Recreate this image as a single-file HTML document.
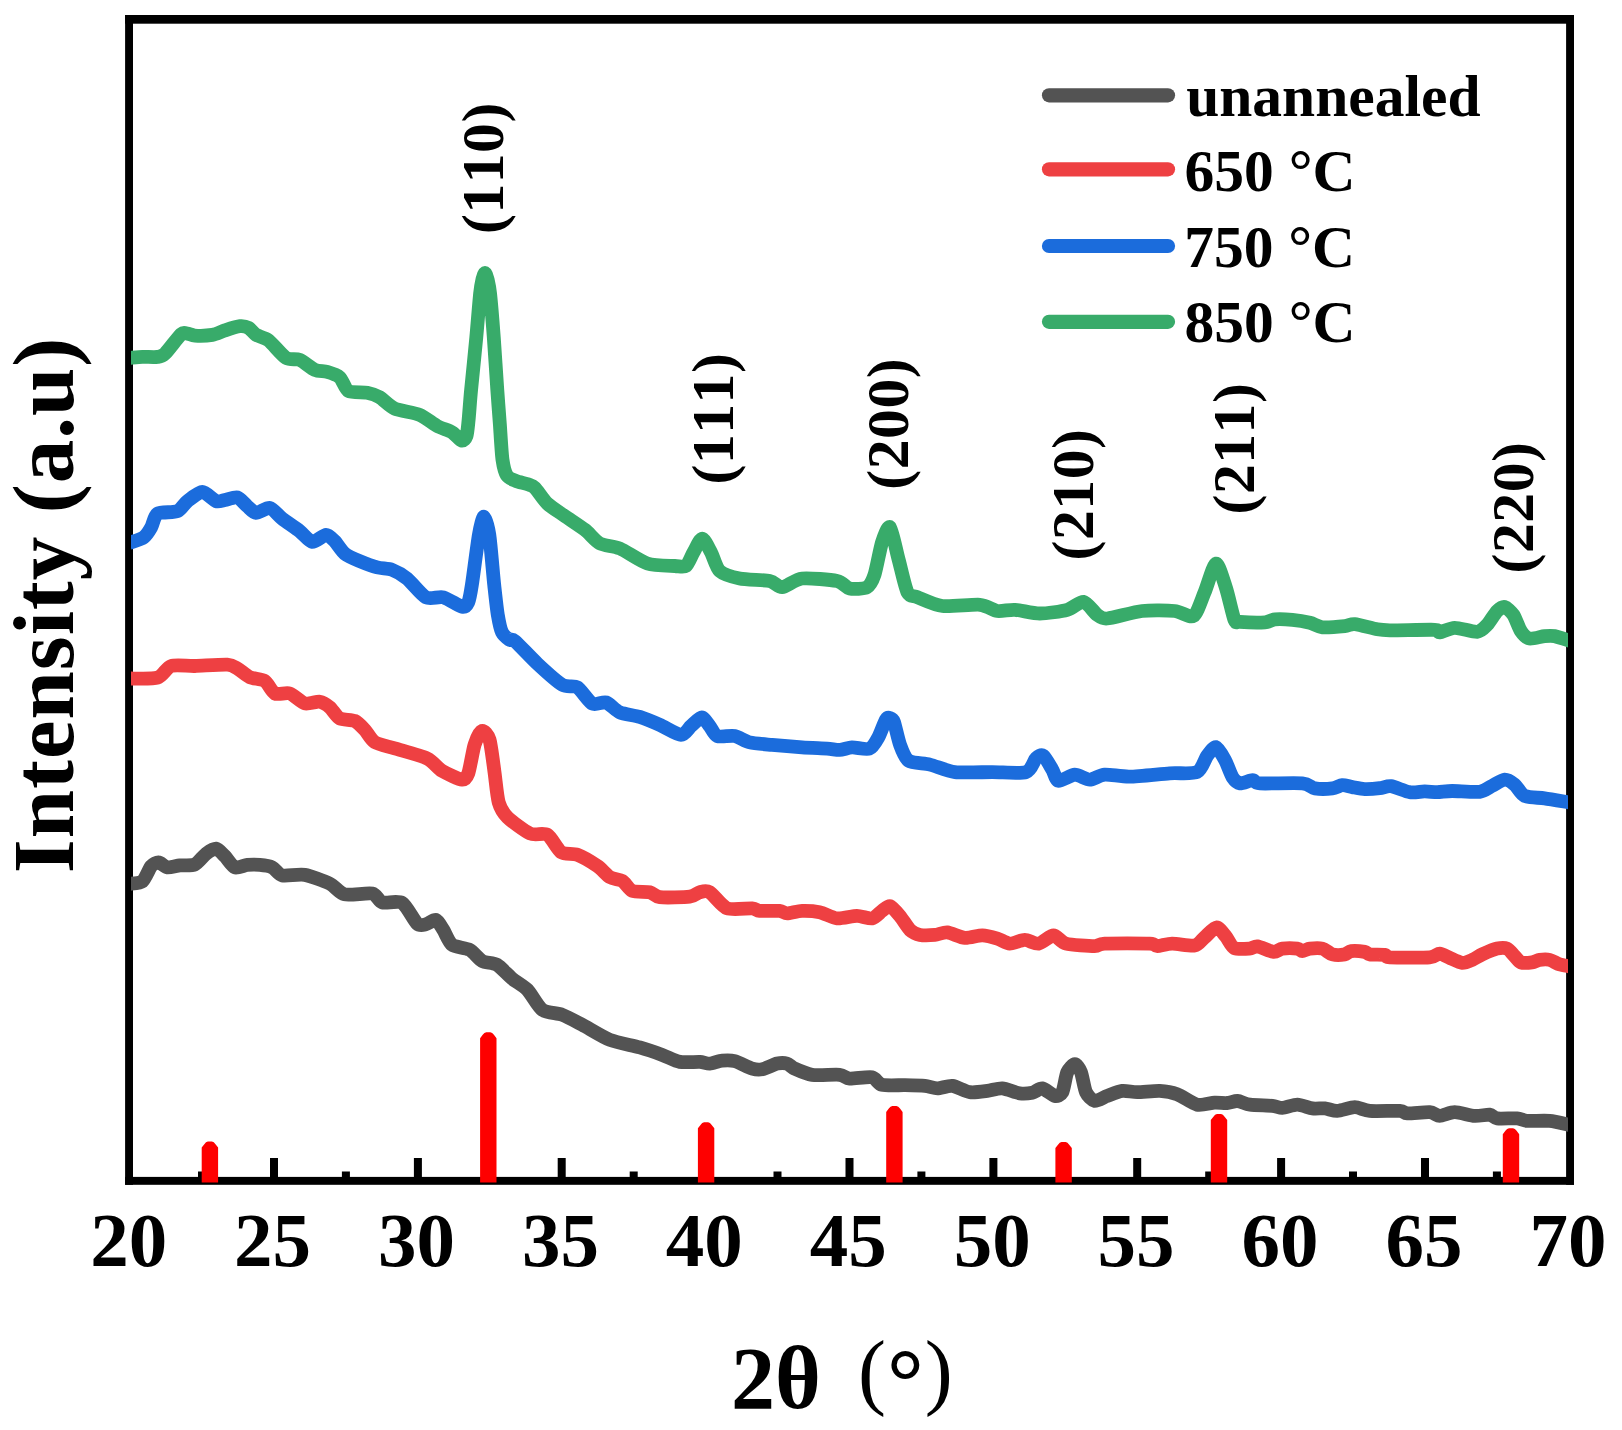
<!DOCTYPE html>
<html lang="en"><head><meta charset="utf-8"><title>XRD patterns</title>
<style>html,body{margin:0;padding:0;background:#fff}body{width:1622px;height:1430px;overflow:hidden}svg{display:block}text{font-family:"Liberation Serif","Times New Roman",serif;font-weight:bold;fill:#000;font-kerning:none;font-variant-ligatures:none}tspan.n{font-weight:normal}</style></head><body>
<svg width="1622" height="1430" viewBox="0 0 1622 1430">
<rect width="1622" height="1430" fill="#fff"/>
<defs><clipPath id="cp"><rect x="131" y="20" width="1437" height="1160"/></clipPath></defs>
<g fill="#000"><rect x="125.1" y="15" width="1448.9" height="8.7"/><rect x="125.1" y="1176.9" width="1448.9" height="7.9"/><rect x="125.1" y="15" width="7.9" height="1169.8"/><rect x="1566.1" y="15" width="7.9" height="1169.8"/></g>
<g fill="#000"><rect x="198.0" y="1171.5" width="8" height="6.5"/><rect x="270.0" y="1158.0" width="8" height="20.0"/><rect x="341.9" y="1171.5" width="8" height="6.5"/><rect x="413.9" y="1158.0" width="8" height="20.0"/><rect x="485.8" y="1171.5" width="8" height="6.5"/><rect x="557.7" y="1158.0" width="8" height="20.0"/><rect x="629.7" y="1171.5" width="8" height="6.5"/><rect x="701.6" y="1158.0" width="8" height="20.0"/><rect x="773.5" y="1171.5" width="8" height="6.5"/><rect x="845.5" y="1158.0" width="8" height="20.0"/><rect x="917.4" y="1171.5" width="8" height="6.5"/><rect x="989.4" y="1158.0" width="8" height="20.0"/><rect x="1061.3" y="1171.5" width="8" height="6.5"/><rect x="1133.2" y="1158.0" width="8" height="20.0"/><rect x="1205.2" y="1171.5" width="8" height="6.5"/><rect x="1277.1" y="1158.0" width="8" height="20.0"/><rect x="1349.0" y="1171.5" width="8" height="6.5"/><rect x="1421.0" y="1158.0" width="8" height="20.0"/><rect x="1492.9" y="1171.5" width="8" height="6.5"/></g>
<g clip-path="url(#cp)" fill="none" stroke-width="13.8" stroke-linejoin="round" stroke-linecap="butt">
<path stroke="#535353" d="M129.0 884.0C130.7 883.6 139.7 883.4 142.5 881.2C145.3 879.0 149.2 868.6 151.2 866.2C153.2 863.9 156.7 862.2 158.7 862.4C160.7 862.5 164.8 867.0 167.4 867.4C170.1 867.8 176.5 865.8 179.9 865.4C183.3 865.0 191.6 865.9 194.9 864.4C198.2 862.9 203.4 855.7 206.1 853.7C208.8 851.7 213.8 848.4 216.1 848.7C218.4 849.0 222.6 853.9 224.9 856.2C227.2 858.5 232.1 866.3 234.9 867.4C237.7 868.5 244.2 865.2 247.3 864.9C250.4 864.6 256.7 864.6 259.8 864.9C262.9 865.2 269.5 866.1 272.3 867.4C275.1 868.7 278.2 874.5 282.3 875.4C286.4 876.3 298.9 873.9 304.8 874.9C310.7 875.9 324.7 881.2 329.7 883.6C334.7 886.0 339.4 893.1 344.7 894.4C350.0 895.6 367.5 892.6 372.2 893.6C376.9 894.6 378.5 901.2 382.2 902.4C385.9 903.6 397.7 900.2 402.1 902.9C406.5 905.5 414.1 920.9 417.1 923.6C420.1 926.3 423.5 924.8 425.9 924.3C428.2 923.8 433.7 919.2 435.9 919.9C438.1 920.6 441.3 926.7 443.3 929.8C445.3 932.9 448.8 942.3 452.1 944.8C455.4 947.3 465.9 947.8 469.6 949.8C473.4 951.8 478.7 959.1 482.1 961.0C485.5 962.9 493.3 962.6 497.0 964.8C500.7 967.0 508.2 975.4 512.0 978.5C515.8 981.6 523.7 986.0 527.5 989.9C531.3 993.8 538.0 1006.8 542.4 1009.9C546.8 1013.0 557.4 1013.0 562.4 1014.9C567.4 1016.8 576.5 1021.8 582.4 1024.9C588.3 1028.0 602.7 1037.1 609.9 1039.9C617.1 1042.7 633.2 1045.5 639.8 1047.4C646.3 1049.3 657.3 1053.1 662.3 1054.9C667.3 1056.7 675.1 1061.0 679.8 1061.9C684.5 1062.8 696.1 1061.7 699.8 1061.9C703.5 1062.1 706.9 1063.8 709.7 1063.6C712.5 1063.4 719.1 1060.9 722.2 1060.6C725.3 1060.3 731.0 1060.1 734.7 1061.1C738.5 1062.1 748.8 1067.6 752.2 1068.6C755.6 1069.6 759.1 1069.9 762.2 1069.3C765.3 1068.7 774.1 1064.3 777.2 1063.6C780.3 1062.9 784.9 1063.0 787.1 1063.6C789.3 1064.2 791.5 1067.2 794.6 1068.6C797.7 1070.0 806.5 1074.0 812.1 1074.8C817.7 1075.6 834.9 1074.3 839.6 1074.8C844.3 1075.3 845.6 1078.3 849.6 1078.6C853.6 1078.9 868.0 1076.5 872.0 1077.3C876.0 1078.1 877.9 1083.8 882.0 1084.8C886.1 1085.8 899.6 1085.1 905.0 1085.2C910.4 1085.3 920.9 1085.5 924.9 1085.9C928.9 1086.3 934.0 1088.4 937.4 1088.4C940.8 1088.4 948.3 1085.4 952.4 1085.9C956.5 1086.4 965.5 1091.6 969.9 1092.2C974.3 1092.8 983.4 1091.4 987.4 1090.9C991.4 1090.4 998.2 1088.1 1002.3 1088.4C1006.3 1088.7 1016.0 1092.9 1019.8 1093.4C1023.5 1093.9 1029.5 1093.3 1032.3 1092.7C1035.1 1092.1 1039.5 1088.0 1042.3 1088.4C1045.1 1088.8 1052.3 1095.4 1054.8 1095.9C1057.3 1096.4 1060.7 1095.2 1062.3 1092.2C1063.9 1089.2 1065.7 1075.7 1067.3 1072.2C1068.9 1068.7 1073.1 1064.2 1074.8 1064.2C1076.5 1064.2 1079.6 1068.7 1081.0 1072.2C1082.4 1075.7 1084.3 1088.6 1086.0 1092.2C1087.7 1095.8 1092.0 1100.4 1094.7 1100.9C1097.4 1101.4 1103.8 1097.2 1107.2 1095.9C1110.6 1094.7 1118.5 1091.4 1122.2 1090.9C1126.0 1090.4 1132.5 1092.2 1137.2 1092.2C1141.9 1092.2 1154.7 1090.7 1159.7 1090.9C1164.7 1091.2 1172.4 1092.5 1177.1 1094.2C1181.8 1095.9 1192.4 1103.6 1197.1 1104.7C1201.8 1105.8 1210.8 1102.9 1214.6 1102.7C1218.3 1102.5 1224.2 1103.2 1227.1 1103.0C1230.0 1102.8 1234.6 1100.8 1237.5 1101.0C1240.4 1101.2 1245.6 1104.1 1250.0 1104.7C1254.4 1105.3 1268.4 1105.5 1272.4 1105.9C1276.5 1106.3 1279.3 1108.1 1282.4 1107.9C1285.5 1107.8 1293.7 1104.6 1297.4 1104.7C1301.2 1104.8 1309.0 1107.9 1312.4 1108.4C1315.8 1108.9 1321.8 1108.1 1324.9 1108.4C1328.0 1108.7 1333.6 1111.1 1337.3 1110.9C1341.0 1110.8 1350.7 1107.2 1354.8 1107.2C1358.9 1107.2 1364.2 1110.4 1369.8 1110.9C1375.4 1111.4 1395.1 1110.6 1399.8 1110.9C1404.5 1111.2 1403.6 1113.2 1407.3 1113.4C1411.0 1113.6 1425.7 1111.9 1429.7 1112.2C1433.8 1112.5 1436.6 1115.9 1439.7 1115.9C1442.8 1115.9 1450.3 1112.2 1454.7 1112.2C1459.1 1112.2 1470.3 1115.6 1474.7 1115.9C1479.1 1116.2 1486.9 1114.4 1489.7 1114.7C1492.5 1115.0 1493.7 1117.9 1497.1 1118.4C1500.5 1118.9 1513.3 1118.1 1517.1 1118.4C1520.8 1118.7 1523.0 1120.6 1527.1 1120.9C1531.2 1121.2 1544.2 1120.4 1549.6 1120.9C1555.0 1121.4 1567.5 1124.5 1570.0 1125.0"/>
<path stroke="#ee4042" d="M129.0 678.5C132.6 678.4 152.2 679.3 157.5 677.7C162.8 676.1 166.5 667.5 171.2 666.0C175.9 664.5 187.9 666.2 194.9 666.0C201.9 665.8 222.1 664.4 227.4 664.7C232.7 665.0 234.6 666.9 237.4 668.5C240.2 670.1 246.4 675.6 249.8 677.2C253.2 678.8 261.7 679.0 264.8 681.0C267.9 683.0 271.7 691.9 274.8 693.5C277.9 695.1 286.1 692.3 289.8 693.5C293.6 694.7 301.1 702.4 304.8 703.4C308.6 704.4 316.7 701.2 319.8 701.7C322.9 702.2 327.2 705.1 329.7 707.2C332.2 709.3 336.6 716.7 339.7 718.4C342.8 720.1 351.6 719.5 354.7 720.9C357.8 722.3 362.2 727.1 364.7 729.7C367.2 732.4 370.9 739.8 374.7 742.1C378.4 744.4 388.1 746.4 394.7 748.4C401.2 750.4 421.2 755.6 427.1 758.4C433.0 761.2 437.7 768.2 442.1 770.9C446.5 773.5 458.8 779.3 462.1 779.6C465.4 779.9 466.7 777.8 468.3 773.4C469.9 769.0 472.9 749.9 474.6 744.6C476.3 739.3 480.1 731.5 482.0 730.9C483.9 730.3 487.9 734.5 489.5 739.6C491.1 744.8 493.4 764.3 494.5 772.1C495.6 779.9 497.1 796.6 498.7 802.3C500.3 807.9 503.6 813.4 507.5 817.3C511.4 821.2 525.0 831.3 530.0 833.5C535.0 835.7 543.5 832.5 547.4 834.8C551.3 837.1 557.5 849.7 561.2 852.2C565.0 854.7 572.9 853.0 577.4 854.7C581.9 856.4 593.3 863.2 597.4 866.0C601.5 868.8 606.8 875.3 609.9 877.2C613.0 879.1 619.5 879.2 622.3 880.9C625.1 882.6 628.9 889.5 632.3 890.9C635.7 892.3 646.4 891.4 649.8 892.2C653.2 893.0 654.8 896.6 659.8 897.2C664.8 897.8 684.8 897.3 689.8 896.7C694.8 896.1 697.2 892.8 699.7 892.2C702.2 891.6 706.3 890.2 709.7 892.2C713.1 894.2 721.9 906.4 727.2 908.4C732.5 910.4 748.1 908.1 752.2 908.4C756.3 908.7 756.3 910.6 759.7 910.9C763.1 911.2 776.2 910.6 779.6 910.9C783.0 911.2 784.3 913.4 787.1 913.4C789.9 913.4 798.0 911.0 802.1 910.9C806.2 910.8 815.2 911.3 819.6 912.2C824.0 913.1 832.4 917.9 837.1 918.4C841.8 918.9 852.6 915.9 857.0 915.9C861.4 915.9 868.9 919.0 872.0 918.4C875.1 917.8 879.8 912.4 882.0 910.9C884.2 909.4 887.8 905.5 890.0 906.1C892.2 906.8 897.5 913.1 900.0 916.1C902.5 919.1 907.5 927.5 910.0 929.9C912.5 932.2 916.9 934.3 920.0 934.9C923.1 935.5 931.5 935.2 934.9 934.9C938.3 934.6 943.6 932.0 947.4 932.4C951.1 932.8 960.5 937.5 964.9 937.9C969.3 938.3 978.3 935.3 982.4 935.4C986.5 935.5 994.0 937.6 997.4 938.6C1000.8 939.6 1006.4 943.4 1009.8 943.6C1013.2 943.8 1021.2 939.9 1024.8 939.9C1028.4 939.9 1035.0 944.2 1038.6 943.6C1042.2 943.0 1050.1 935.4 1053.5 935.4C1056.9 935.4 1060.8 942.3 1066.0 943.6C1071.2 944.9 1089.9 946.1 1094.7 946.1C1099.5 946.1 1097.8 943.9 1104.7 943.6C1111.6 943.3 1143.1 943.3 1149.7 943.6C1156.3 943.9 1154.4 946.1 1157.2 946.1C1160.0 946.1 1167.4 943.7 1172.1 943.6C1176.8 943.5 1190.5 946.4 1194.6 945.6C1198.7 944.8 1201.8 939.7 1204.6 937.4C1207.3 935.1 1213.9 927.5 1216.6 927.4C1219.2 927.3 1223.6 933.8 1225.8 936.4C1228.0 939.0 1231.2 946.5 1234.2 948.0C1237.2 949.5 1246.6 948.8 1249.5 948.6C1252.4 948.4 1254.4 946.0 1257.4 946.4C1260.4 946.8 1270.6 951.6 1273.7 951.9C1276.8 952.2 1279.4 949.0 1282.4 948.6C1285.4 948.2 1294.9 948.3 1297.4 948.6C1299.9 948.9 1300.8 951.1 1302.4 951.1C1304.0 951.1 1307.4 948.9 1309.9 948.6C1312.4 948.3 1319.6 947.9 1322.4 948.6C1325.2 949.3 1329.6 953.7 1332.4 954.4C1335.2 955.1 1342.5 954.8 1344.8 954.4C1347.1 954.0 1348.6 951.4 1351.1 951.1C1353.6 950.8 1362.5 951.5 1364.8 951.9C1367.1 952.3 1367.3 954.0 1369.8 954.4C1372.3 954.8 1382.3 954.5 1384.8 954.9C1387.3 955.3 1384.2 957.1 1389.8 957.4C1395.4 957.7 1423.5 957.9 1429.7 957.4C1435.9 956.9 1437.2 953.5 1439.7 953.6C1442.2 953.7 1446.9 956.7 1449.7 957.9C1452.5 959.1 1459.4 962.6 1462.2 962.9C1465.0 963.1 1469.7 961.0 1472.2 959.9C1474.7 958.8 1479.1 955.8 1482.2 954.4C1485.3 953.0 1494.0 949.3 1497.1 948.6C1500.2 947.9 1504.9 947.7 1507.1 948.6C1509.3 949.5 1512.9 954.4 1514.6 956.1C1516.3 957.8 1518.7 961.6 1520.9 962.4C1523.1 963.2 1529.8 962.7 1532.1 962.4C1534.4 962.1 1537.4 960.2 1539.6 959.9C1541.8 959.6 1547.1 959.3 1549.6 959.9C1552.1 960.5 1557.0 963.6 1559.6 964.4C1562.1 965.2 1568.7 966.2 1570.0 966.5"/>
<path stroke="#1b6cdc" d="M129.0 543.0C130.8 542.3 140.9 539.4 143.7 537.4C146.5 535.4 149.5 530.4 151.2 527.4C152.9 524.4 154.2 515.7 157.5 513.7C160.8 511.7 173.7 512.8 177.4 511.2C181.1 509.6 184.3 503.6 187.4 501.2C190.5 498.8 198.8 492.0 202.4 492.0C206.0 492.0 213.3 500.2 216.1 501.2C218.9 502.2 222.2 500.5 224.9 500.0C227.6 499.5 234.6 496.7 237.4 497.5C240.2 498.3 245.0 504.3 247.3 506.2C249.6 508.1 253.3 512.7 256.1 512.9C258.9 513.1 266.5 507.2 269.8 507.9C273.1 508.6 278.6 515.8 282.3 518.7C286.1 521.6 296.1 528.3 299.8 531.2C303.6 534.1 309.0 541.4 312.3 541.9C315.6 542.4 323.2 535.0 326.0 534.9C328.8 534.8 332.4 538.9 334.7 541.2C337.0 543.5 341.6 551.1 344.7 553.6C347.8 556.1 355.6 559.4 359.7 561.1C363.8 562.8 373.1 566.3 377.2 567.4C381.3 568.5 388.5 568.5 392.2 569.9C395.9 571.3 402.9 575.2 407.1 578.6C411.3 582.0 421.4 595.0 425.9 597.3C430.4 599.6 438.9 596.1 443.4 597.3C447.9 598.5 459.0 606.2 462.1 606.8C465.2 607.4 467.1 605.0 468.3 602.3C469.5 599.5 470.6 593.2 471.9 584.8C473.2 576.4 477.4 543.4 478.9 534.9C480.4 526.4 482.7 516.7 484.0 516.7C485.3 516.7 488.0 526.4 489.3 534.9C490.6 543.4 493.1 574.8 494.2 584.8C495.3 594.8 496.8 608.9 497.8 614.8C498.8 620.7 500.5 629.2 502.0 632.3C503.5 635.4 507.9 638.7 509.5 639.8C511.1 640.9 511.5 638.2 515.0 641.2C518.5 644.2 531.5 658.2 537.4 663.7C543.3 669.2 557.4 681.9 562.4 684.9C567.4 687.9 573.6 685.0 577.4 687.4C581.1 689.8 588.8 701.8 592.4 703.7C596.0 705.6 602.7 701.3 606.1 702.4C609.5 703.5 615.6 710.6 619.8 712.4C624.0 714.2 634.8 715.3 639.8 716.9C644.8 718.5 654.6 722.6 659.8 724.9C664.9 727.1 677.1 734.8 681.0 734.9C684.9 735.0 688.4 728.3 691.0 726.1C693.6 723.9 699.4 717.4 701.7 717.4C704.0 717.4 707.8 723.8 709.7 726.1C711.6 728.4 714.1 734.9 717.2 736.1C720.3 737.4 730.6 735.3 734.7 736.1C738.8 736.9 745.0 741.3 749.7 742.4C754.4 743.5 765.6 744.3 772.1 744.9C778.6 745.5 795.2 746.9 802.1 747.4C809.0 747.9 822.4 748.3 827.1 748.6C831.8 748.9 836.5 750.0 839.6 749.9C842.7 749.8 848.3 747.6 852.0 747.4C855.7 747.2 866.2 749.9 869.5 748.6C872.8 747.4 876.3 741.0 878.3 737.4C880.3 733.8 884.3 722.3 885.8 719.9C887.3 717.5 889.0 717.7 890.0 718.0C891.0 718.3 892.8 718.7 894.0 722.0C895.2 725.3 898.2 739.8 900.0 744.6C901.8 749.5 905.0 758.3 908.7 760.8C912.4 763.3 924.1 763.2 929.9 764.6C935.7 766.0 947.1 771.2 954.9 772.1C962.7 773.0 983.5 772.1 992.4 772.1C1001.3 772.1 1020.5 773.8 1026.0 772.1C1031.5 770.4 1033.8 760.4 1036.0 758.4C1038.2 756.4 1041.5 754.5 1043.5 755.9C1045.5 757.3 1050.4 766.5 1052.3 769.6C1054.2 772.7 1055.7 780.2 1058.5 780.8C1061.3 781.4 1070.9 774.8 1074.8 774.6C1078.7 774.5 1086.0 779.6 1089.7 779.6C1093.4 779.6 1099.7 775.0 1104.7 774.6C1109.7 774.2 1121.6 776.8 1129.7 776.6C1137.8 776.4 1161.2 773.9 1169.6 773.3C1178.0 772.7 1192.4 774.3 1197.1 772.1C1201.8 769.9 1204.8 759.0 1207.1 755.9C1209.4 752.8 1213.6 746.6 1215.8 747.1C1218.0 747.6 1222.9 756.2 1225.0 760.0C1227.1 763.8 1230.6 774.3 1232.5 777.2C1234.4 780.1 1237.5 783.0 1240.0 783.4C1242.5 783.8 1250.0 780.1 1252.5 780.1C1255.0 780.1 1253.8 783.0 1260.0 783.4C1266.2 783.8 1295.5 782.8 1302.4 783.4C1309.3 784.0 1311.2 787.8 1314.9 788.4C1318.7 789.0 1329.0 788.8 1332.4 788.4C1335.8 788.0 1339.8 785.3 1342.3 785.1C1344.8 784.9 1349.5 786.6 1352.3 787.1C1355.1 787.6 1361.4 789.0 1364.8 789.1C1368.2 789.2 1376.5 788.6 1379.8 788.2C1383.1 787.8 1387.2 785.7 1391.0 786.2C1394.8 786.7 1405.6 791.6 1409.8 792.2C1414.0 792.9 1421.3 791.4 1424.7 791.4C1428.1 791.4 1433.8 792.2 1437.2 792.2C1440.6 792.2 1446.9 791.0 1452.2 791.0C1457.5 791.0 1474.7 792.4 1479.7 791.8C1484.7 791.2 1489.0 787.4 1492.1 785.9C1495.2 784.4 1501.8 779.9 1504.6 779.7C1507.4 779.5 1512.1 782.6 1514.6 784.6C1517.1 786.6 1520.8 794.2 1524.6 795.9C1528.3 797.6 1538.9 797.6 1544.6 798.4C1550.3 799.2 1566.8 802.0 1570.0 802.5"/>
<path stroke="#38ab6a" d="M129.0 358.0C130.7 357.9 138.9 357.0 142.5 356.9C146.1 356.8 154.7 357.3 157.5 356.9C160.3 356.5 162.0 356.5 165.0 353.6C168.0 350.8 178.4 336.6 181.2 334.1C184.0 331.6 185.7 333.4 187.4 333.6C189.1 333.8 191.8 335.4 194.9 335.6C198.0 335.8 208.7 335.5 212.4 334.9C216.2 334.2 221.5 331.5 224.9 330.4C228.3 329.3 236.9 326.5 239.9 326.2C242.9 325.9 246.6 326.8 248.6 327.9C250.6 329.0 253.6 333.3 256.1 334.9C258.6 336.5 264.9 337.5 268.6 340.4C272.3 343.3 282.1 355.5 286.0 357.9C289.9 360.3 296.2 358.4 299.8 359.9C303.4 361.4 311.4 368.4 314.8 369.9C318.2 371.4 324.1 371.0 327.2 371.9C330.3 372.8 337.0 374.9 339.7 377.3C342.4 379.7 345.1 389.2 348.5 391.1C351.9 393.0 363.3 392.0 367.2 392.8C371.1 393.6 376.3 395.3 379.7 397.3C383.1 399.3 389.7 406.4 394.7 408.6C399.7 410.8 414.3 412.6 419.6 414.8C424.9 417.0 433.0 423.8 437.1 426.0C441.2 428.2 449.1 430.5 452.1 432.3C455.2 434.1 459.7 440.1 461.5 440.6C463.3 441.1 465.6 438.6 466.5 436.0C467.4 433.4 468.0 425.8 468.6 420.0C469.2 414.2 470.1 400.2 471.1 389.9C472.1 379.6 475.2 349.4 476.3 337.4C477.4 325.4 479.3 301.0 480.1 293.7C480.9 286.4 481.9 281.6 482.5 279.0C483.1 276.4 484.4 273.0 485.0 273.0C485.6 273.0 486.9 276.4 487.5 279.0C488.1 281.6 489.3 286.4 490.1 293.7C490.9 301.0 492.9 325.4 493.8 337.4C494.7 349.4 496.5 379.0 497.3 389.9C498.1 400.8 499.2 416.1 499.9 424.8C500.5 433.5 501.6 453.5 502.5 459.8C503.4 466.1 505.2 472.9 506.9 475.5C508.5 478.1 513.1 479.7 515.7 480.8C518.3 481.9 525.5 483.4 527.9 484.3C530.3 485.2 532.5 485.4 534.9 487.8C537.3 490.2 543.6 500.1 547.4 503.6C551.1 507.1 560.2 512.8 564.9 516.1C569.6 519.4 580.5 526.4 584.9 529.8C589.3 533.2 595.5 541.2 599.9 543.5C604.3 545.8 614.0 546.0 619.9 548.5C625.8 551.0 640.4 561.3 647.3 563.5C654.2 565.7 670.0 565.7 674.8 566.0C679.6 566.3 683.7 567.7 686.0 566.0C688.3 564.3 691.5 555.7 693.5 552.3C695.5 548.9 700.0 538.6 702.2 538.6C704.4 538.6 708.8 548.2 711.0 552.3C713.2 556.3 716.1 567.7 719.7 571.0C723.3 574.3 733.5 577.2 739.7 578.5C746.0 579.8 764.4 579.9 769.7 581.0C775.0 582.1 778.1 587.5 782.1 587.2C786.1 586.9 795.2 579.3 802.1 578.5C809.0 577.7 831.2 579.8 837.1 581.0C843.0 582.2 845.9 587.7 849.6 588.5C853.3 589.3 863.9 588.9 867.0 587.2C870.1 585.5 872.6 580.4 874.5 574.8C876.4 569.2 880.1 548.2 882.0 542.3C883.9 536.4 887.9 525.1 890.0 527.3C892.1 529.5 896.5 551.8 898.7 559.9C900.9 568.0 905.1 587.6 907.5 592.3C909.9 597.0 913.1 595.6 917.5 597.3C921.9 599.0 934.6 605.1 942.4 606.0C950.2 606.9 973.0 604.2 979.9 604.8C986.8 605.4 993.0 610.4 997.4 611.0C1001.8 611.6 1009.5 609.5 1014.8 609.8C1020.1 610.1 1033.2 613.5 1039.8 613.5C1046.4 613.5 1061.8 611.3 1067.3 609.8C1072.8 608.3 1079.8 601.2 1083.5 601.8C1087.2 602.4 1094.2 612.7 1097.2 614.8C1100.2 616.9 1101.6 619.0 1107.2 618.5C1112.8 618.0 1133.8 611.9 1142.2 611.0C1150.6 610.1 1168.2 610.4 1174.6 611.0C1181.0 611.6 1189.7 618.3 1193.4 616.0C1197.2 613.7 1201.8 598.8 1204.6 592.3C1207.4 585.8 1213.3 564.1 1216.0 563.6C1218.7 563.1 1223.7 581.0 1226.0 588.0C1228.3 595.0 1232.8 615.8 1234.5 620.0C1236.2 624.2 1236.2 621.5 1240.0 621.8C1243.8 622.1 1260.6 622.6 1265.0 622.3C1269.4 622.0 1271.6 619.7 1275.0 619.4C1278.4 619.1 1288.0 619.5 1292.4 619.9C1296.8 620.3 1306.2 621.9 1309.9 622.8C1313.7 623.7 1318.0 626.9 1322.4 627.3C1326.8 627.7 1340.8 626.5 1344.8 626.1C1348.8 625.7 1350.7 623.7 1354.8 624.1C1358.9 624.5 1372.9 628.5 1377.3 629.3C1381.7 630.1 1382.6 630.2 1389.8 630.3C1397.0 630.4 1428.5 629.5 1434.7 629.8C1440.9 630.0 1437.2 632.5 1439.7 632.3C1442.2 632.0 1450.0 627.9 1454.7 627.8C1459.4 627.7 1473.1 632.2 1477.2 631.8C1481.3 631.4 1484.7 627.4 1487.2 624.8C1489.7 622.2 1494.9 613.3 1497.1 611.1C1499.3 608.9 1502.6 606.4 1504.6 606.9C1506.6 607.4 1511.4 611.9 1513.4 614.9C1515.4 617.9 1518.9 628.1 1520.9 631.1C1522.9 634.1 1526.6 638.0 1529.6 638.6C1532.6 639.2 1541.5 636.4 1544.6 636.1C1547.7 635.8 1551.4 635.5 1554.6 636.1C1557.8 636.7 1568.1 640.2 1570.0 640.8"/>
</g>
<g fill="#fe0000"><path d="M201.7 1182.6V1147.6L204.3 1144.2Q205.9 1141.6 207.9 1141.6H211.9Q213.9 1141.6 215.5 1144.2L218.1 1147.6V1182.6Z"/><path d="M480.1 1182.6V1038.2L482.7 1034.8Q484.3 1032.2 486.3 1032.2H490.3Q492.3 1032.2 493.9 1034.8L496.5 1038.2V1182.6Z"/><path d="M697.9 1182.6V1128.3L700.5 1124.9Q702.1 1122.3 704.1 1122.3H708.1Q710.1 1122.3 711.7 1124.9L714.3 1128.3V1182.6Z"/><path d="M886.2 1182.6V1111.9L888.8 1108.5Q890.4 1105.9 892.4 1105.9H896.4Q898.4 1105.9 900.0 1108.5L902.6 1111.9V1182.6Z"/><path d="M1055.4 1182.6V1148.1L1058.0 1144.7Q1059.6 1142.1 1061.6 1142.1H1065.6Q1067.6 1142.1 1069.2 1144.7L1071.8 1148.1V1182.6Z"/><path d="M1210.8 1182.6V1120.1L1213.4 1116.7Q1215.0 1114.1 1217.0 1114.1H1221.0Q1223.0 1114.1 1224.6 1116.7L1227.2 1120.1V1182.6Z"/><path d="M1502.8 1182.6V1134.2L1505.4 1130.8Q1507.0 1128.2 1509.0 1128.2H1513.0Q1515.0 1128.2 1516.6 1130.8L1519.2 1134.2V1182.6Z"/></g>
<g font-size="77" text-anchor="middle">
<text x="128.7" y="1266">20</text>
<text x="272.6" y="1266">25</text>
<text x="416.5" y="1266">30</text>
<text x="560.4" y="1266">35</text>
<text x="704.3" y="1266">40</text>
<text x="848.2" y="1266">45</text>
<text x="992.2" y="1266">50</text>
<text x="1136.1" y="1266">55</text>
<text x="1280.0" y="1266">60</text>
<text x="1423.9" y="1266">65</text>
<text x="1567.9" y="1266">70</text>
</g>
<text font-size="88"><tspan x="731" y="1408">2θ</tspan><tspan> </tspan><tspan class="n" x="858" y="1398.5" font-size="84">(</tspan><tspan x="887" y="1411.5" font-size="92">°</tspan><tspan class="n" x="924.7" y="1398.5" font-size="84">)</tspan></text>
<text transform="translate(72.5,605) rotate(-90)" font-size="87" letter-spacing="0.95" text-anchor="middle">Intensity (a.u)</text>
<g font-size="59.5" letter-spacing="0.6" text-anchor="middle">
<text transform="translate(503.2,168.1) rotate(-90)">(110)</text>
<text transform="translate(733.2,418.6) rotate(-90)">(111)</text>
<text transform="translate(908.2,423.8) rotate(-90)">(200)</text>
<text transform="translate(1093.1,494.5) rotate(-90)">(210)</text>
<text transform="translate(1254.3,448.6) rotate(-90)">(211)</text>
<text transform="translate(1532.8,507.5) rotate(-90)">(220)</text>
</g>
<g stroke-width="14.2" stroke-linecap="round">
<line x1="1049" y1="95.3" x2="1168" y2="95.3" stroke="#535353"/>
<line x1="1049" y1="169.3" x2="1168" y2="169.3" stroke="#ee4042"/>
<line x1="1049" y1="246.0" x2="1168" y2="246.0" stroke="#1b6cdc"/>
<line x1="1049" y1="321.8" x2="1168" y2="321.8" stroke="#38ab6a"/>
</g>
<g font-size="59.5">
<text x="1186.2" y="116.0">unannealed</text>
<text x="1184.6" y="190.8">650 °C</text>
<text x="1184.2" y="266.6">750 °C</text>
<text x="1184.6" y="342.0">850 °C</text>
</g>
</svg></body></html>
